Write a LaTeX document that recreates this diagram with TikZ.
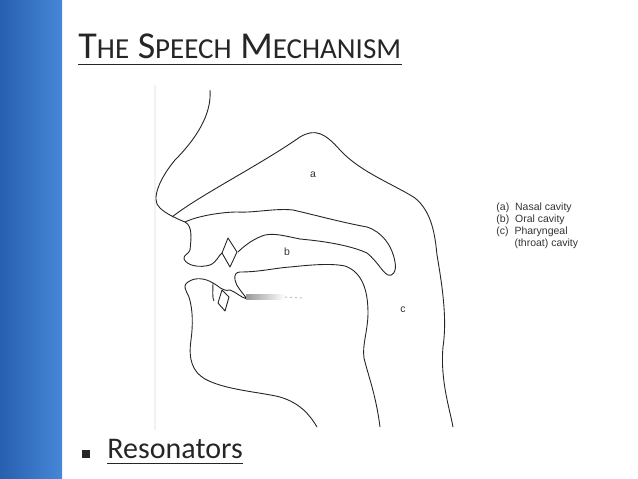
\documentclass[tikz,border=0pt]{standalone}
\usepackage{fontspec}
\setmainfont{Carlito}
\newfontfamily\legfont{Liberation Sans}
\newcommand{\sm}[1]{{\fontsize{29}{31}\selectfont #1}}
\begin{document}
\begin{tikzpicture}[x=1pt,y=-1pt,line width=0.9pt,
 outl/.style={draw=black!85,line width=0.9pt,line join=round},
 lbl/.style={font=\legfont\fontsize{10.5}{12}\selectfont,text=black!80}]
\useasboundingbox (0,0) rectangle (638,479);
\shade[left color={rgb,255:red,40;green,95;blue,175}, right color={rgb,255:red,70;green,135;blue,215}] (0,0) rectangle (62,479);
\draw[black!5,line width=1.5pt] (155,85) -- (155,430);
% title
\node[anchor=base west,inner sep=0,font=\fontsize{38}{40}\selectfont,text=black!85] (title) at (78,58) {T\sm{HE} S\sm{PEECH} M\sm{ECHANISM}};
\draw[black!85,line width=0.8pt] (78,64) -- (title.east |- 0,64);
% face / nasal cavity
\draw[outl] (210,90) .. controls (212,115) and (195,140) .. (175,160)
  .. controls (160,178) and (150,200) .. (160,208) .. controls (165,213) and (175,218) .. (185,222);
\draw[outl] (172,217) .. controls (200,195) and (260,165) .. (300,137)
  .. controls (315,128) and (325,133) .. (340,150) .. controls (360,172) and (395,185) .. (415,198)
  .. controls (432,212) and (435,235) .. (437,255) .. controls (443,290) and (447,320) .. (443,347)
  .. controls (440,380) and (450,410) .. (453,427);
% palate
\draw[outl] (185,222) .. controls (200,215) and (225,212) .. (237,212)
  .. controls (255,213) and (275,208) .. (293,210) .. controls (315,215) and (340,222) .. (367,227)
  .. controls (382,232) and (392,245) .. (395,262) .. controls (397,272) and (392,277) .. (388,275)
  .. controls (382,272) and (378,262) .. (367,253) .. controls (345,243) and (310,240) .. (300,239)
  .. controls (285,236) and (275,233) .. (265,235) .. controls (255,238) and (245,245) .. (238,252);
% upper lip
\draw[outl] (185,222) .. controls (193,226) and (191,240) .. (190,250)
  .. controls (189,254) and (183,255) .. (184,259) .. controls (187,266) and (200,268) .. (210,265)
  .. controls (217,262) and (218,256) .. (222,253);
\draw[outl] (222,253) -- (228,238) -- (237,252) -- (230,267) -- cycle;
% lower lip
\draw[outl] (230,290) .. controls (222,292) and (218,285) .. (213,283)
  .. controls (205,278) and (195,277) .. (188,282) .. controls (182,286) and (186,290) .. (189,297)
  .. controls (193,310) and (193,325) .. (191,340) .. controls (188,360) and (193,372) .. (205,379)
  .. controls (225,390) and (260,392) .. (280,397) .. controls (300,403) and (310,415) .. (317,427);
\draw[outl] (218,303) -- (222,290) -- (229,297) -- (225,311) -- cycle;
\draw[outl] (213,283) .. controls (213,290) and (212,298) .. (214,301);
% tongue
\draw[outl] (230,290) .. controls (236,292) and (240,297) .. (247,299)
  .. controls (242,292) and (236,286) .. (235,280) .. controls (234,275) and (236,272) .. (240,272)
  .. controls (260,272) and (275,268) .. (290,267) .. controls (310,265) and (330,263) .. (345,266)
  .. controls (362,272) and (368,290) .. (368,313) .. controls (368,330) and (362,345) .. (364,358)
  .. controls (368,375) and (376,395) .. (380,427);
% air stipple
\shade[left color=black!40,right color=white] (246,294.5) rectangle (285,299.5);
\draw[black!25,line width=1pt,dash pattern=on 2pt off 3pt] (285,297) -- (305,298);
% letters
\node[lbl] (la) at (313,175) {a};
\node[lbl] (lb) at (287,252) {b};
\node[lbl] (lc) at (403,310) {c};
% legend
\node[lbl,anchor=north west,align=left,inner sep=0] (leg) at (496,202)
 {(a)\ \ Nasal cavity\\(b)\ \ Oral cavity\\(c)\ \ Pharyngeal\\\hphantom{(c)\ \ }(throat) cavity};
% bullet
\node[anchor=base west,inner sep=0,font=\fontsize{30}{32}\selectfont,text=black!85] (res) at (82,458) {\rule{8pt}{8pt}};
\node[anchor=base west,inner sep=0,font=\fontsize{30}{32}\selectfont,text=black!85] (rt) at (107,458) {Resonators};
\draw[black!85,line width=0.8pt] (rt.west |- 0,463) -- (rt.east |- 0,463);
\end{tikzpicture}
\end{document}
